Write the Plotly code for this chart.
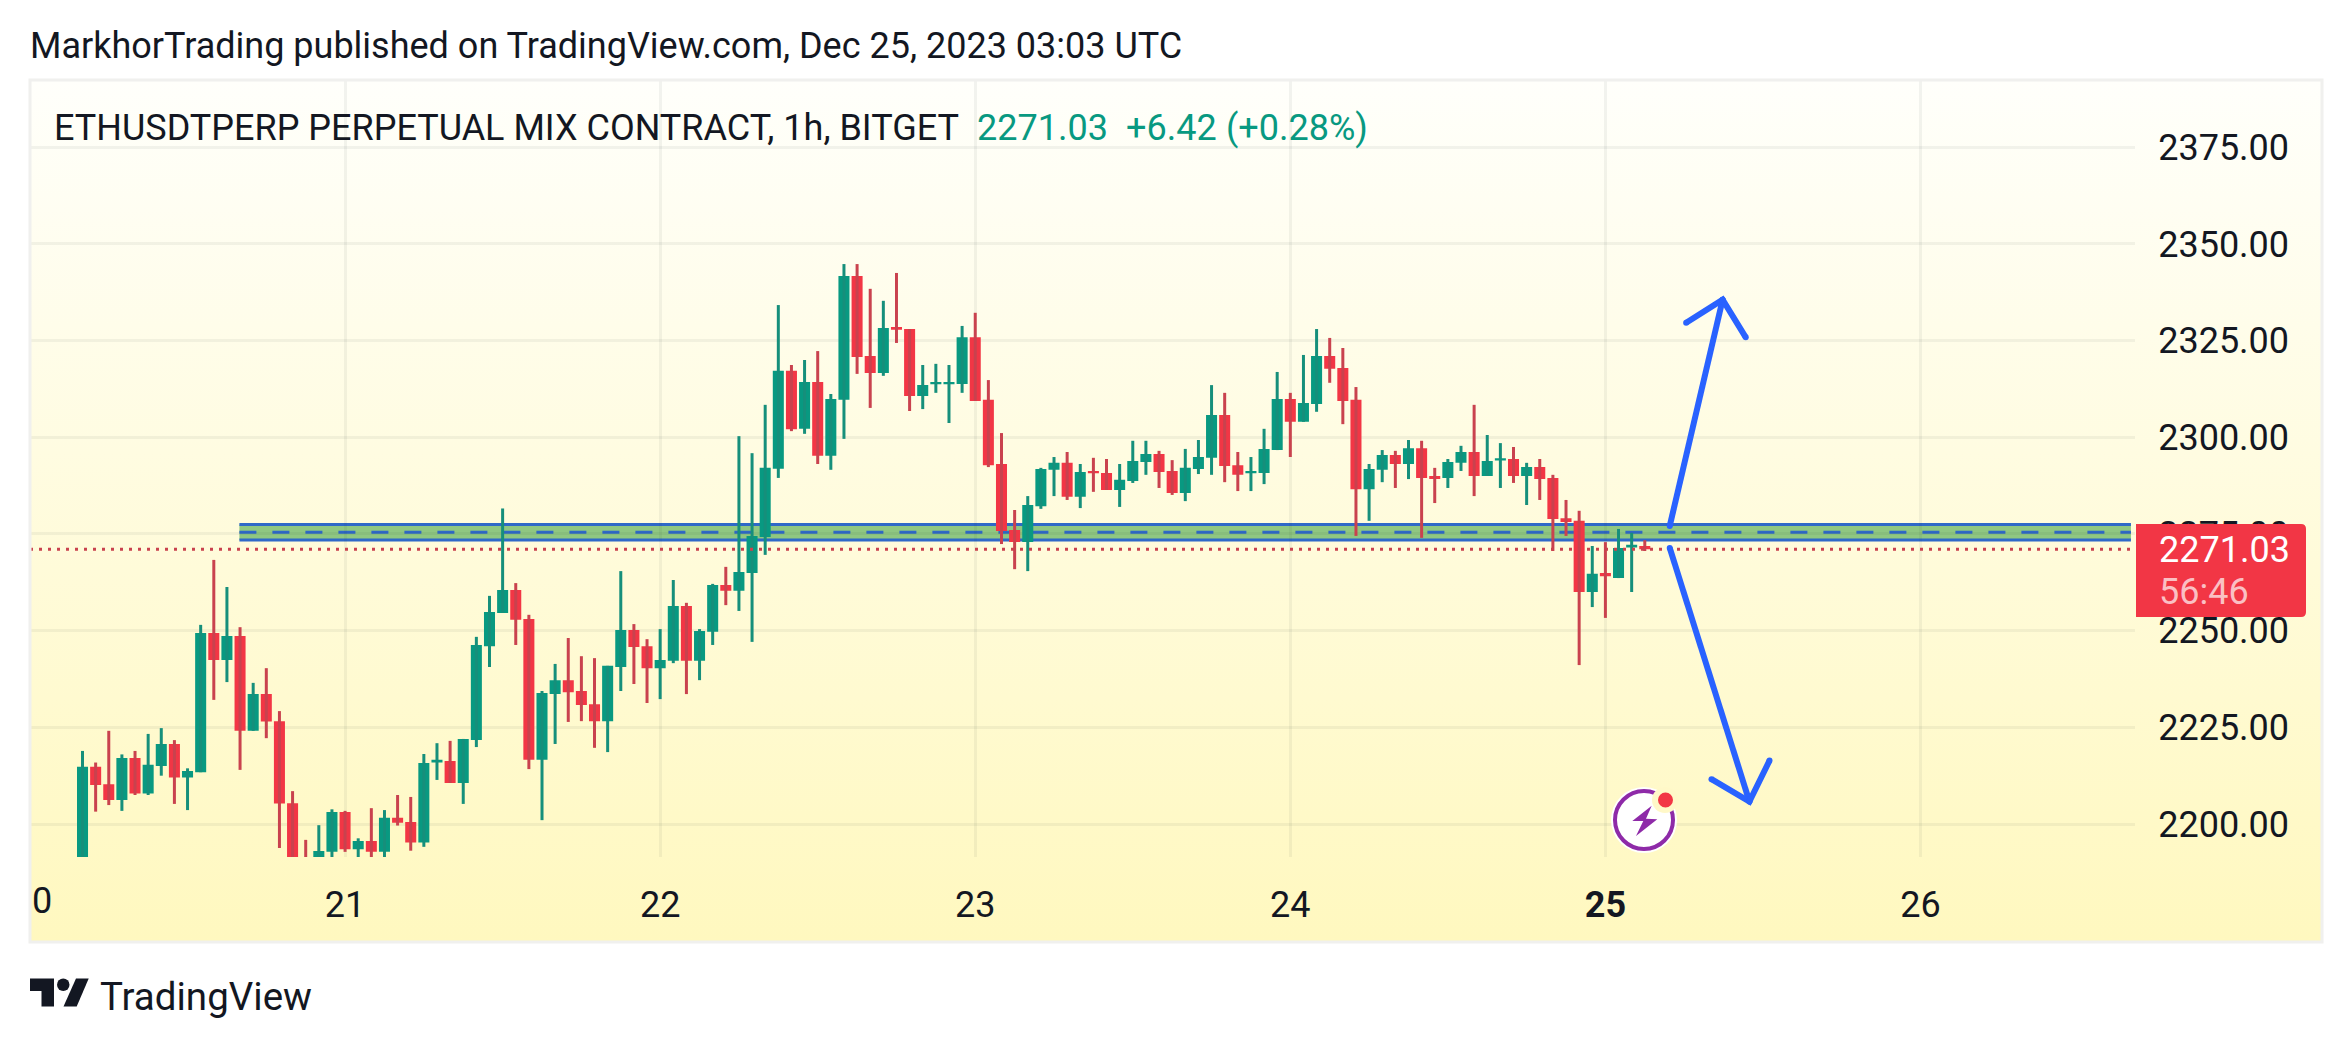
import plotly.graph_objects as go

# hours counted from Dec 21 00:00, one candle per hour
hours = list(range(-20, 100))

opens = [2185, 2214.8, 2210.3, 2206.2, 2217.1, 2207.9, 2215.0, 2220.7, 2212.0, 2213.4,
         2249.4, 2242.4, 2248.6, 2224.1, 2233.6, 2226.6, 2205.4, 2189, 2188, 2192.8,
         2203.1, 2193.5, 2195.6, 2192.8, 2201.6, 2200.5, 2195.2, 2215.9, 2216.3, 2210.6,
         2221.7, 2246.0, 2254.6, 2260.5, 2253.0, 2216.6, 2233.6, 2237.2, 2234.4, 2231.0,
         2226.6, 2240.6, 2250.2, 2246.0, 2240.3, 2242.2, 2256.4, 2242.2, 2249.7, 2261.8,
         2260.3, 2264.9, 2274.2, 2291.9, 2317.2, 2302.2, 2314.3, 2295.2, 2309.7, 2341.7,
         2321.0, 2316.6, 2328.5, 2328.0, 2310.7, 2313.7, 2313.7, 2313.8, 2325.9, 2309.7,
         2293.1, 2276.0, 2272.9, 2282.2, 2291.6, 2293.4, 2284.6, 2291.3, 2290.8, 2286.4,
         2288.7, 2293.6, 2295.7, 2291.3, 2285.6, 2291.8, 2294.7, 2305.8, 2292.8, 2290.7,
         2290.8, 2296.7, 2309.9, 2304.0, 2308.6, 2321.0, 2317.9, 2309.7, 2286.6, 2291.6,
         2295.4, 2293.1, 2297.2, 2290.0, 2289.5, 2293.4, 2296.2, 2290.0, 2294.0, 2294.4,
         2290.0, 2292.3, 2289.5, 2279.1, 2278.4, 2260.0, 2264.9, 2263.6, 2271.5, 2271.9]
closes = [2214.8, 2210.1, 2206.2, 2217.1, 2207.9, 2215.3, 2220.7, 2212.0, 2213.7, 2249.4,
          2242.4, 2248.6, 2224.1, 2233.6, 2226.5, 2205.3, 2186, 2186, 2193.0, 2203.1,
          2193.5, 2195.6, 2192.8, 2201.6, 2200.3, 2195.2, 2215.8, 2216.6, 2210.6, 2222.0,
          2246.3, 2254.8, 2260.5, 2252.8, 2216.6, 2233.9, 2237.2, 2234.1, 2230.8, 2226.6,
          2240.9, 2250.2, 2245.8, 2240.3, 2242.4, 2256.4, 2242.2, 2249.9, 2261.8, 2260.3,
          2265.2, 2274.5, 2292.1, 2317.2, 2302.1, 2314.3, 2295.2, 2309.9, 2341.7, 2320.8,
          2316.6, 2328.3, 2327.8, 2310.7, 2313.5, 2314.3, 2314.3, 2325.9, 2309.4, 2292.8,
          2275.8, 2272.9, 2282.5, 2291.8, 2293.4, 2284.6, 2291.0, 2290.7, 2286.4, 2289.0,
          2293.9, 2295.7, 2291.0, 2285.6, 2292.1, 2294.9, 2305.8, 2292.6, 2290.3, 2291.3,
          2297.0, 2309.9, 2304.0, 2308.9, 2321.0, 2317.7, 2309.4, 2286.6, 2291.8, 2295.4,
          2293.1, 2297.2, 2289.5, 2289.2, 2293.6, 2296.2, 2290.0, 2293.9, 2294.6, 2290.0,
          2292.3, 2289.2, 2278.9, 2278.1, 2260.0, 2264.7, 2264.1, 2271.4, 2272.2, 2271.03]
highs = [2218.9, 2215.9, 2224.1, 2218.0, 2218.9, 2223.3, 2224.8, 2221.7, 2214.4, 2251.5,
         2268.3, 2261.3, 2250.9, 2236.5, 2240.3, 2229.2, 2208.5, 2195.9, 2199.7, 2203.8,
         2203.4, 2196.3, 2204.1, 2203.6, 2207.5, 2207.0, 2218.1, 2220.9, 2221.5, 2222.0,
         2248.4, 2259.0, 2281.6, 2262.3, 2254.1, 2234.4, 2241.4, 2248.1, 2243.4, 2242.9,
         2240.9, 2265.4, 2251.7, 2247.8, 2250.4, 2263.1, 2257.2, 2250.4, 2262.1, 2266.5,
         2300.3, 2295.9, 2308.4, 2334.2, 2318.7, 2320.0, 2322.3, 2311.2, 2344.8, 2344.8,
         2338.4, 2335.3, 2342.5, 2328.0, 2318.7, 2319.0, 2318.7, 2328.8, 2332.2, 2314.8,
         2301.1, 2281.2, 2284.8, 2292.1, 2294.9, 2296.2, 2293.1, 2294.7, 2294.4, 2293.1,
         2299.1, 2299.1, 2296.5, 2294.1, 2297.0, 2299.3, 2313.5, 2311.5, 2296.2, 2294.9,
         2302.2, 2316.9, 2311.5, 2321.3, 2328.0, 2325.7, 2323.1, 2313.0, 2293.1, 2296.7,
         2296.5, 2299.3, 2299.1, 2292.1, 2294.4, 2297.8, 2308.4, 2300.6, 2298.5, 2297.5,
         2293.4, 2294.4, 2290.3, 2283.8, 2281.0, 2271.9, 2272.9, 2276.3, 2275.3, 2273.4]
lows = [2183, 2203.2, 2204.9, 2203.4, 2207.5, 2207.5, 2212.5, 2205.2, 2203.6, 2213.4,
        2232.1, 2236.7, 2214.0, 2224.1, 2222.2, 2193.8, 2184, 2184, 2186, 2190,
        2192.8, 2190, 2190, 2190, 2199.6, 2193.1, 2194.1, 2211.4, 2210.6, 2205.2,
        2219.9, 2240.6, 2254.6, 2246.3, 2214.2, 2201.0, 2220.7, 2226.4, 2226.6, 2219.7,
        2218.6, 2234.4, 2236.2, 2231.3, 2232.3, 2241.6, 2233.6, 2237.2, 2246.3, 2256.6,
        2255.1, 2247.1, 2269.6, 2289.5, 2301.6, 2300.9, 2293.1, 2291.6, 2299.6, 2316.4,
        2307.6, 2315.9, 2324.4, 2306.8, 2307.3, 2311.5, 2303.7, 2311.5, 2309.4, 2292.3,
        2272.4, 2265.9, 2265.4, 2281.5, 2284.8, 2283.8, 2281.7, 2285.9, 2286.4, 2282.0,
        2288.2, 2290.3, 2286.9, 2285.1, 2283.5, 2290.5, 2290.3, 2288.4, 2286.1, 2286.1,
        2287.9, 2296.7, 2294.9, 2304.0, 2306.6, 2314.1, 2303.4, 2274.5, 2278.4, 2288.4,
        2286.9, 2289.2, 2274.0, 2283.0, 2286.9, 2291.3, 2284.8, 2290.0, 2286.9, 2288.2,
        2282.5, 2283.8, 2270.6, 2274.5, 2241.1, 2256.1, 2253.3, 2263.6, 2260.0, 2270.6]

price_ticks = [2200, 2225, 2250, 2275, 2300, 2325, 2350, 2375]
day_ticks = [0, 24, 48, 72, 96, 120]
day_labels = ["21", "22", "23", "24", "<b>25</b>", "26"]

last_price = 2271.03
zone_top = 2277.45
zone_mid = 2275.45
zone_bottom = 2273.45
zone_start = -8.05
zone_end = 136.03

arrow_up_h = [100.9, 104.93, None, 102.15, 104.93, 106.69]
arrow_up_p = [2277.06, 2335.6, None, 2329.63, 2335.6, 2325.86]
arrow_down_h = [100.9, 106.97, None, 104.08, 106.97, 108.5]
arrow_down_p = [2271.4, 2205.8, None, 2211.6, 2205.8, 2216.4]

GREEN = "#089981"
RED = "#F23645"
GREEN_WICK = "#168f7b"
RED_WICK = "#c9424e"
INK = "#131722"
BLUE = "#2962FF"
ZONE_LINE = "#2f69c8"
FONT = "Roboto"
W, H = 2352, 1047

fig = go.Figure()

# page sized backdrop, axes x/y run in page pixels
fig.add_trace(go.Scatter(
    x=[30, 2322, 2322, 30, 30], y=[80, 80, 942, 942, 80],
    mode="lines", line=dict(width=0), fill="toself",
    fillgradient=dict(type="vertical", colorscale=[[0, "#fff8bf"], [1, "#fffffb"]]),
    hoverinfo="skip", showlegend=False,
))

# wicks, split by direction
for color, wick in ((RED_WICK, lambda o, c: c < o), (GREEN_WICK, lambda o, c: c >= o)):
    wx, wy = [], []
    for h, o, c, hi, lo in zip(hours, opens, closes, highs, lows):
        if wick(o, c):
            wx += [h, h, None]
            wy += [lo, hi, None]
    fig.add_trace(go.Scatter(x=wx, y=wy, mode="lines", line=dict(color=color, width=3),
                             xaxis="x2", yaxis="y2", showlegend=False))

fig.add_trace(go.Candlestick(
    x=hours, open=opens, high=highs, low=lows, close=closes,
    increasing=dict(line=dict(color=GREEN, width=0), fillcolor=GREEN),
    decreasing=dict(line=dict(color=RED, width=0), fillcolor=RED),
    whiskerwidth=0, xaxis="x2", yaxis="y2", showlegend=False,
))

fig.add_trace(go.Scatter(
    x=[-24, 136.34], y=[last_price, last_price], mode="lines",
    line=dict(color=RED_WICK, width=3, dash="3px,6px"),
    xaxis="x2", yaxis="y2", showlegend=False,
))

for ax, ay in ((arrow_up_h, arrow_up_p), (arrow_down_h, arrow_down_p)):
    fig.add_trace(go.Scatter(
        x=ax, y=ay, mode="lines+markers",
        line=dict(color=BLUE, width=6), marker=dict(color=BLUE, size=6),
        xaxis="x2", yaxis="y2", showlegend=False,
    ))

# pane border
fig.add_shape(type="rect", x0=30, x1=2322, y0=80, y1=942, xref="x", yref="y",
              line=dict(color="#f0f0ee", width=3), layer="above")

# green zone, under the candles
fig.add_shape(type="rect", x0=zone_start, x1=zone_end, y0=zone_bottom, y1=zone_top,
              xref="x2", yref="y2", fillcolor="#8fc781", line=dict(width=0), layer="below")
for edge in (zone_top, zone_bottom):
    fig.add_shape(type="line", x0=zone_start, x1=zone_end, y0=edge, y1=edge,
                  xref="x2", yref="y2", line=dict(color=ZONE_LINE, width=3), layer="below")
fig.add_shape(type="line", x0=zone_start, x1=zone_end, y0=zone_mid, y1=zone_mid,
              xref="x2", yref="y2", line=dict(color=ZONE_LINE, width=3, dash="17px,16px"),
              layer="below")

# last price tag
fig.add_shape(type="path", xref="x", yref="y", fillcolor=RED, line=dict(width=0), layer="above",
              path="M 2136 524 H 2301 Q 2306 524 2306 529 V 612 Q 2306 617 2301 617 H 2136 Z")

# flash icon
fig.add_shape(type="circle", xref="x", yref="y", x0=1611, x1=1677, y0=787, y1=853,
              fillcolor="white", line=dict(width=0), layer="above")
fig.add_shape(type="circle", xref="x", yref="y", x0=1615, x1=1673, y0=791, y1=849,
              fillcolor="white", line=dict(color="#8e2aa8", width=4), layer="above")
fig.add_shape(type="circle", xref="x", yref="y", x0=1652, x1=1678, y0=787, y1=813,
              fillcolor="#fff8c8", line=dict(width=0), layer="above")
fig.add_shape(type="circle", xref="x", yref="y", x0=1658, x1=1673, y0=792.5, y1=807.5,
              fillcolor=RED, line=dict(width=0), layer="above")
fig.add_shape(type="path", xref="x", yref="y", fillcolor="#8e2aa8", line=dict(width=0), layer="above",
              path="M 1651.7 805.7 L 1632.3 821 L 1643.3 821 L 1636 836 L 1657.3 819.3 L 1646 818.7 Z")

# TradingView logo
fig.add_shape(type="path", xref="x", yref="y", fillcolor=INK, line=dict(width=0), layer="above",
              path="M 30 978.5 H 54 V 1006.5 H 41.5 V 991 H 30 Z")
fig.add_shape(type="circle", xref="x", yref="y", x0=57, x1=69.5, y0=978.5, y1=991,
              fillcolor=INK, line=dict(width=0), layer="above")
fig.add_shape(type="path", xref="x", yref="y", fillcolor=INK, line=dict(width=0), layer="above",
              path="M 76 978.5 H 88.7 L 76.7 1006.5 H 63.5 Z")

notes = [
    (28.5, 46, "MarkhorTrading published on TradingView.com, Dec 25, 2023 03:03 UTC", INK, 36),
    (52.5, 128, "ETHUSDTPERP PERPETUAL MIX CONTRACT, 1h, BITGET", INK, 36),
    (976, 128, "2271.03", GREEN, 36),
    (1125, 128, "+6.42", GREEN, 36),
    (1225, 128, "(+0.28%)", GREEN, 36),
    (31, 901, "0", INK, 36),
    (99, 996, "TradingView", INK, 38.5),
    (2158, 550, "2271.03", "white", 36),
    (2158, 592, "56:46", "rgba(255,255,255,0.7)", 36),
]
for nx, ny, text, color, size in notes:
    fig.add_annotation(x=nx, y=ny, xref="x", yref="y", text=text, showarrow=False,
                       xanchor="left", yanchor="middle", borderpad=0,
                       font=dict(family=FONT, size=size, color=color))

grid = "rgba(42,46,57,0.06)"
fig.update_layout(
    width=W, height=H, margin=dict(l=0, r=0, t=0, b=0),
    paper_bgcolor="white", plot_bgcolor="rgba(0,0,0,0)",
    showlegend=False, boxgap=0.16, boxgroupgap=0, hovermode=False,
    font=dict(family=FONT, size=36, color=INK),
    xaxis=dict(domain=[0, 1], range=[0, W], visible=False, fixedrange=True),
    yaxis=dict(domain=[0, 1], range=[H, 0], visible=False, fixedrange=True),
    xaxis2=dict(
        domain=[30 / W, 2135 / W], range=[-24, 136.34], anchor="y2",
        tickvals=day_ticks, ticktext=day_labels, tickfont=dict(family=FONT, size=36, color=INK),
        ticks="outside", ticklen=16, tickcolor="rgba(0,0,0,0)",
        showgrid=True, gridcolor=grid, gridwidth=3, zeroline=False, showline=False,
        rangeslider=dict(visible=False),
    ),
    yaxis2=dict(
        domain=[1 - 857 / H, 1 - 80 / H], range=[2191.47, 2392.4], anchor="x2", side="right",
        tickvals=price_ticks, tickformat=".2f", tickfont=dict(family=FONT, size=36, color=INK),
        ticks="outside", ticklen=15, tickcolor="rgba(0,0,0,0)",
        showgrid=True, gridcolor=grid, gridwidth=3, zeroline=False, showline=False,
    ),
)

fig.write_html("out.html", post_script="document.body.style.margin='0';",
               config=dict(displayModeBar=False))
